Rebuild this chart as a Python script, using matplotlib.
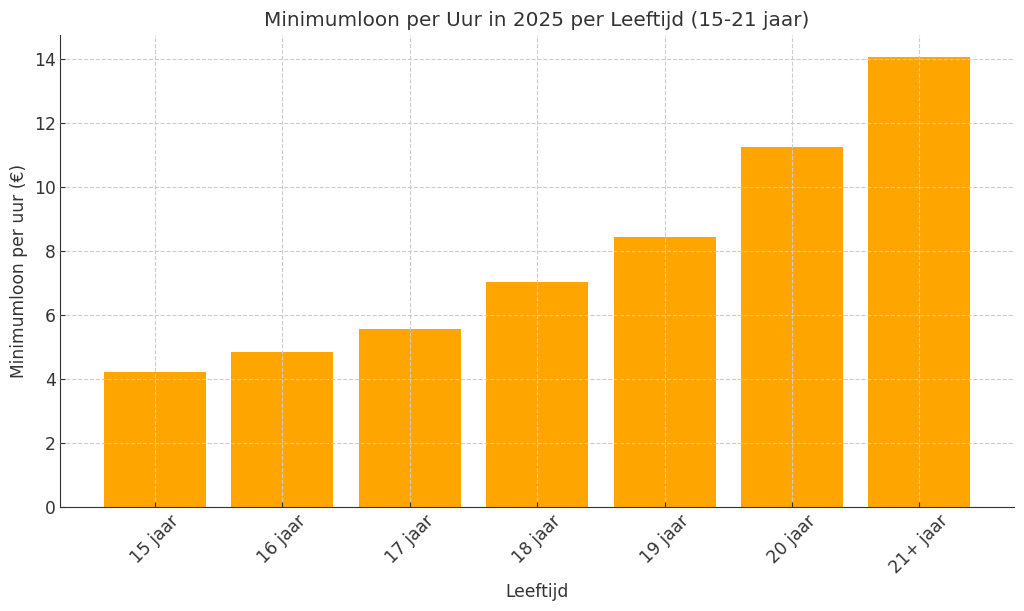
import matplotlib.pyplot as plt
import numpy as np

# Minimum wage per hour 2025 (NL), by age
leeftijden = ["15 jaar", "16 jaar", "17 jaar", "18 jaar", "19 jaar", "20 jaar", "21+ jaar"]
loon_per_uur = [4.22, 4.85, 5.56, 7.03, 8.44, 11.25, 14.06]

text_color = "#333333"
plt.rcParams["font.family"] = ["DejaVu Sans"]
plt.rcParams["text.color"] = text_color
plt.rcParams["axes.labelcolor"] = text_color
plt.rcParams["xtick.color"] = text_color
plt.rcParams["ytick.color"] = text_color

fig, ax = plt.subplots(figsize=(10.24, 6.11), dpi=100)
ax.bar(leeftijden, loon_per_uur, color="orange", width=0.8)

ax.set_title("Minimumloon per Uur in 2025 per Leeftijd (15-21 jaar)", fontsize=14.4)
ax.set_xlabel("Leeftijd", fontsize=12.3)
ax.set_ylabel("Minimumloon per uur (€)", fontsize=12.3)
ax.tick_params(axis="both", labelsize=12.3, direction="in")
plt.setp(ax.get_xticklabels(), rotation=45)

ax.grid(True, linestyle="--", color="#cccccc", linewidth=0.8)
ax.set_axisbelow(False)
ax.spines[["top", "right"]].set_visible(False)
ax.spines[["left", "bottom"]].set_color(text_color)

fig.subplots_adjust(left=0.059, right=0.99, top=0.943, bottom=0.17)
fig.savefig("out.png", dpi=100)
